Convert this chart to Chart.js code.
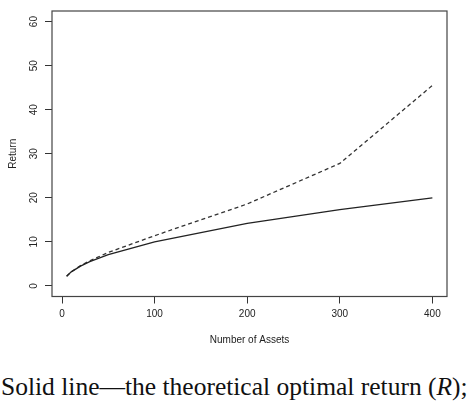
<!DOCTYPE html>
<html>
<head>
<meta charset="utf-8">
<script src="https://cdn.jsdelivr.net/npm/chart.js@4"></script>
<style>
  body { margin: 0; background: #fff; }
  #wrap { position: relative; width: 474px; height: 403px; overflow: hidden; }
  #caption {
    position: absolute; left: 1px; top: 374px;
    font-family: "Liberation Serif", "Times New Roman", serif;
    font-size: 25.5px; line-height: 1; white-space: nowrap; color: #111;
  }
</style>
</head>
<body>
<div id="wrap">
  <canvas id="grafico" width="474" height="360"></canvas>
  <div id="caption">Solid line—the theoretical optimal return (<i>R</i>);</div>
</div>
<script>
// values
const assets = [5, 10, 20, 30, 50, 100, 200, 300, 400];
const optimalReturn = [2.2, 3.2, 4.5, 5.5, 7.1, 10.0, 14.2, 17.3, 20.0];
const otherReturn = [2.2, 3.2, 4.6, 5.7, 7.6, 11.4, 18.6, 27.8, 45.5];
const xTicks = [0, 100, 200, 300, 400];
const yTicks = [0, 10, 20, 30, 40, 50, 60];

const axisFont = { family: '"Liberation Sans", Arial, sans-serif', size: 10 };
const ink = '#333';

function toPoints(ys) {
  return assets.map((x, i) => ({ x: x, y: ys[i] }));
}

// R style frame around the plot area
const boxPlugin = {
  id: 'box',
  afterDraw(chart) {
    const a = chart.chartArea;
    const ctx = chart.ctx;
    ctx.save();
    ctx.strokeStyle = '#444';
    ctx.lineWidth = 1.2;
    ctx.strokeRect(a.left, a.top, a.right - a.left, a.bottom - a.top);
    ctx.restore();
  }
};

const ctx = document.getElementById('grafico').getContext('2d');
new Chart(ctx, {
  type: 'line',
  data: {
    datasets: [{
      label: 'Optimal return',
      data: toPoints(optimalReturn),
      borderColor: '#222',
      borderWidth: 1.3,
      pointRadius: 0,
      tension: 0
    }, {
      label: 'Return',
      data: toPoints(otherReturn),
      borderColor: '#333',
      borderWidth: 1.3,
      borderDash: [4, 3],
      pointRadius: 0,
      tension: 0
    }]
  },
  options: {
    responsive: false,
    animation: false,
    devicePixelRatio: 1,
    layout: { padding: { top: 2, right: 27, left: 0, bottom: 0 } },
    plugins: { legend: { display: false }, tooltip: { enabled: false } },
    scales: {
      x: {
        type: 'linear',
        min: -10.8,
        max: 415.8,
        afterBuildTicks: (scale) => { scale.ticks = xTicks.map(v => ({ value: v })); },
        afterFit: (scale) => { scale.height = 360 - 296.5; },
        border: { display: false },
        grid: { drawOnChartArea: false, drawTicks: true, tickLength: 7, color: ink, lineWidth: 1 },
        ticks: { font: axisFont, color: '#222', padding: 5, maxRotation: 0 },
        title: { display: true, text: 'Number of Assets', font: axisFont, color: '#222', padding: { top: 0, bottom: 14 } }
      },
      y: {
        type: 'linear',
        min: -2.4,
        max: 62.4,
        afterBuildTicks: (scale) => { scale.ticks = yTicks.map(v => ({ value: v })); },
        afterFit: (scale) => { scale.width = 52; },
        border: { display: false },
        grid: { drawOnChartArea: false, drawTicks: true, tickLength: 7, color: ink, lineWidth: 1 },
        ticks: { font: axisFont, color: '#222', padding: 5, minRotation: 90, maxRotation: 90, crossAlign: 'center' },
        title: { display: true, text: 'Return', font: axisFont, color: '#222', padding: { top: 7, bottom: 0 } }
      }
    }
  },
  plugins: [boxPlugin]
});
</script>
</body>
</html>
